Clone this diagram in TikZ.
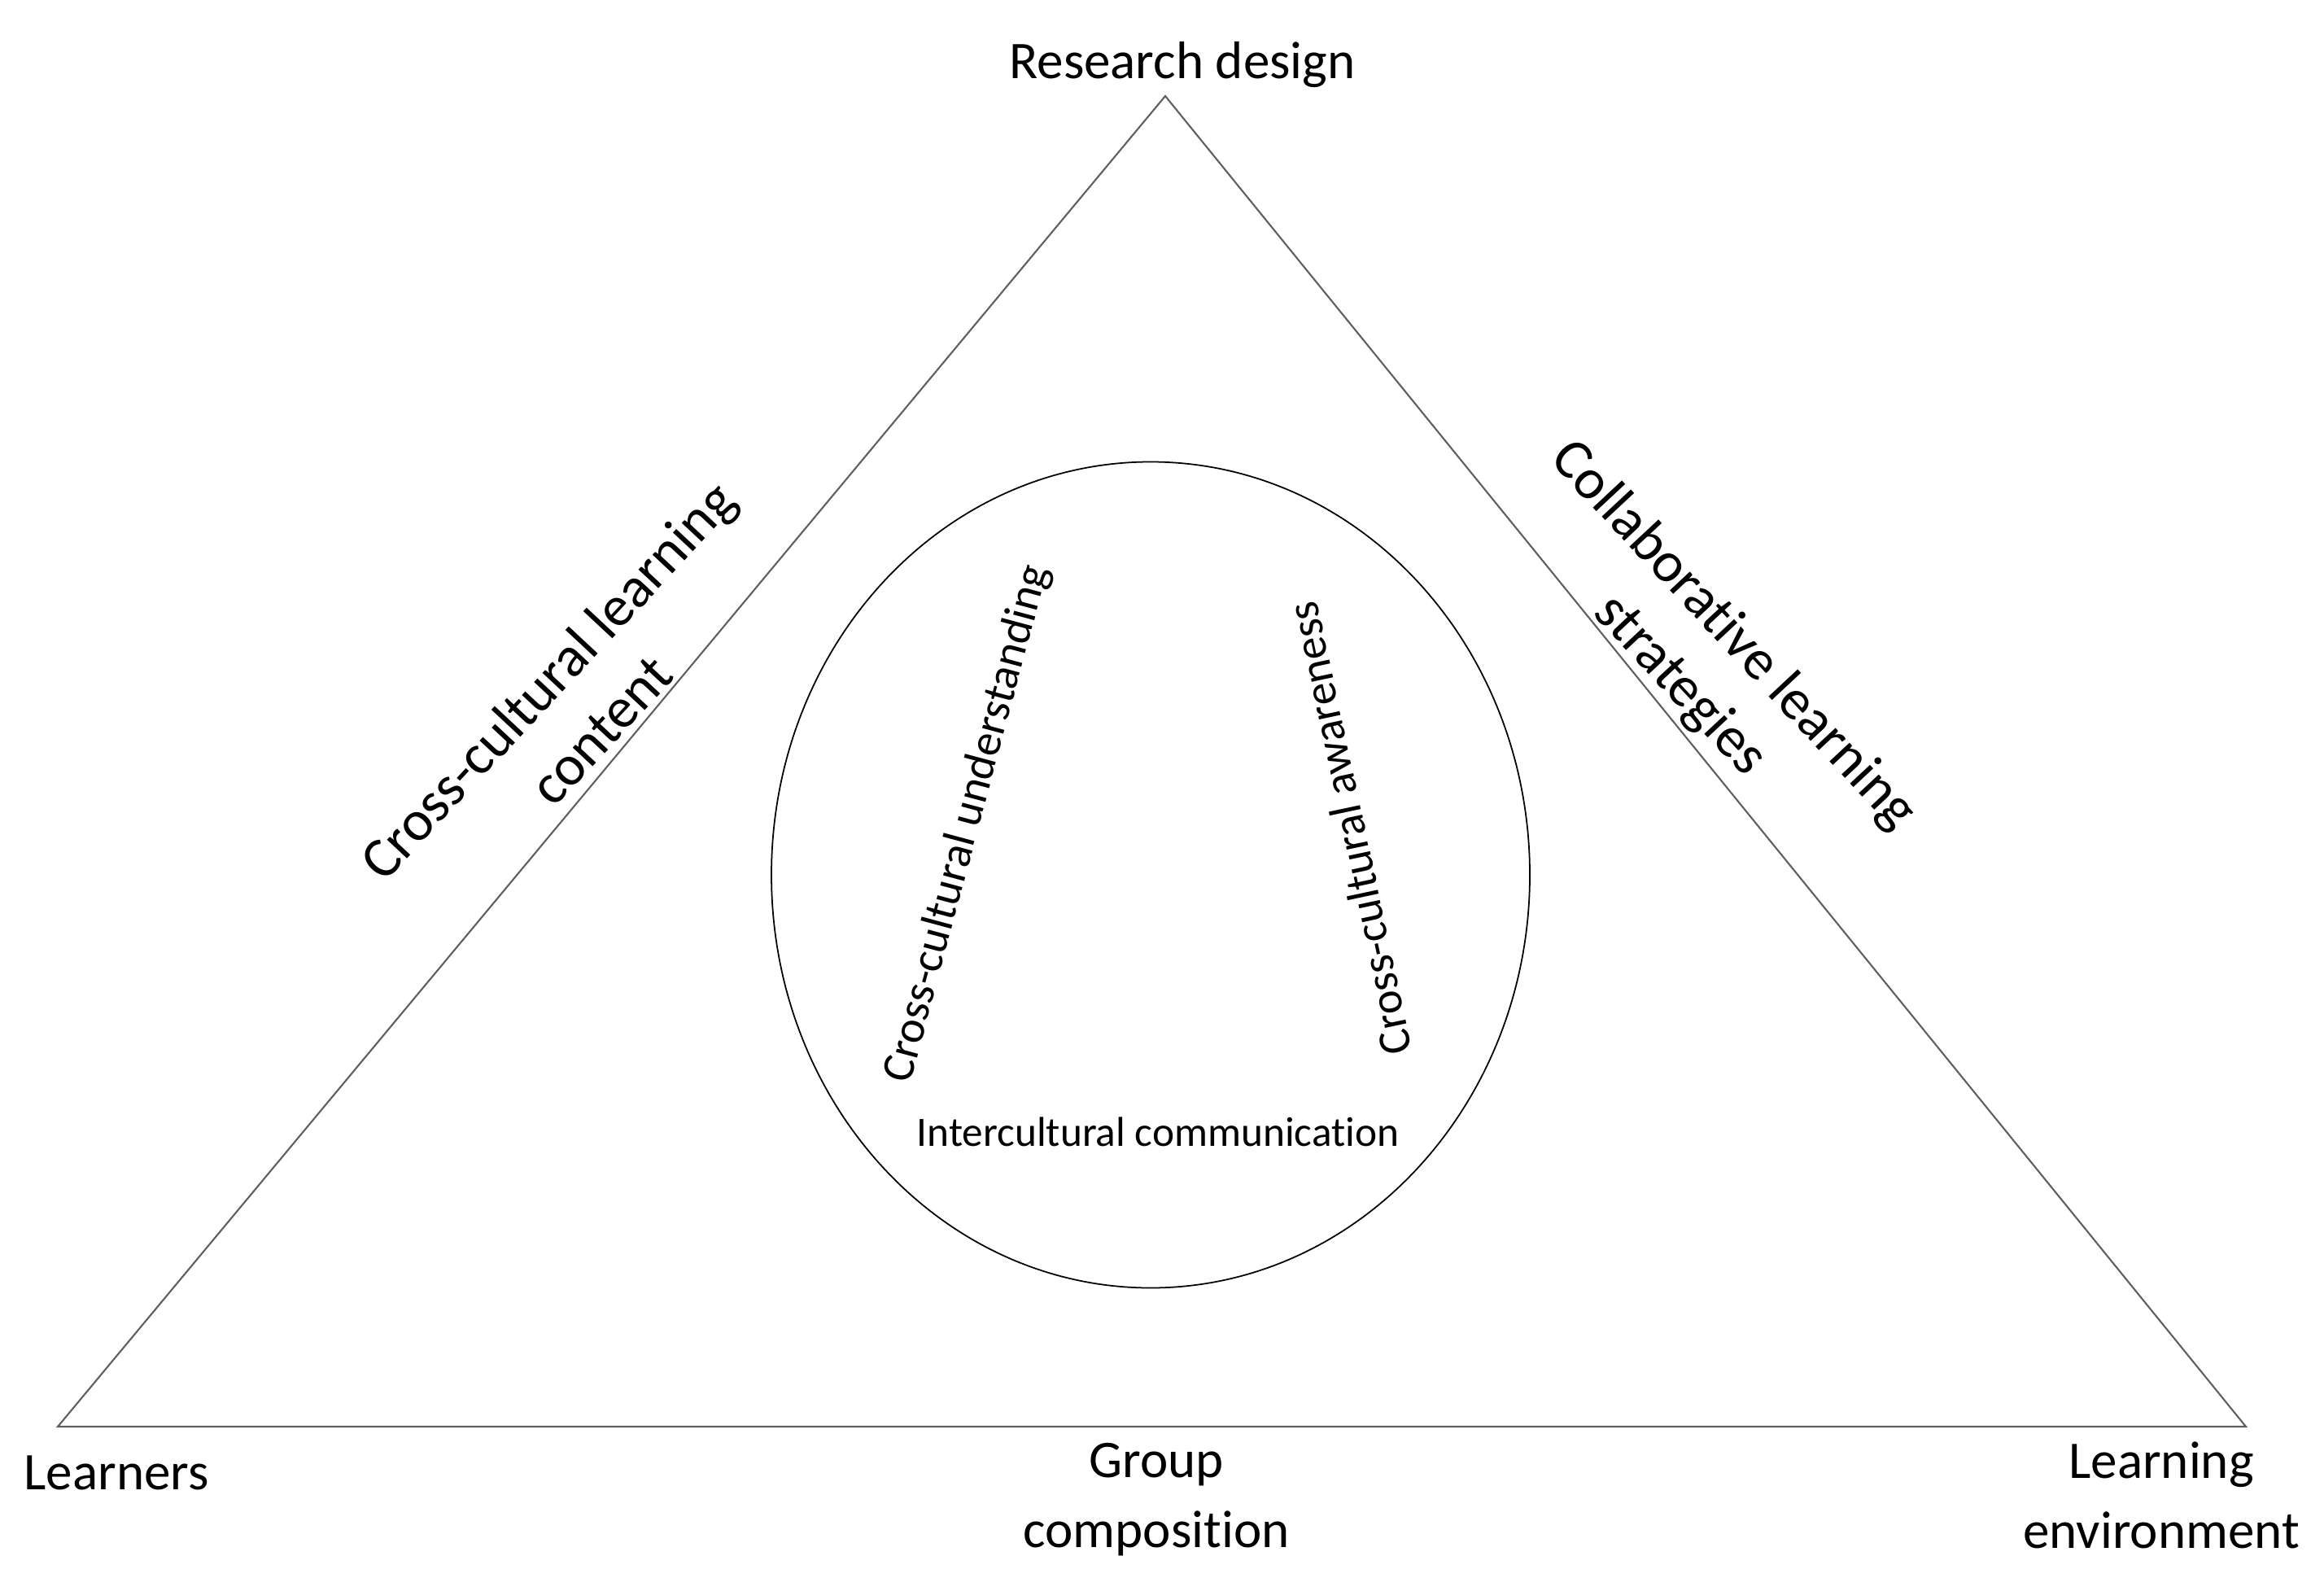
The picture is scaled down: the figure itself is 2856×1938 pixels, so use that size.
\documentclass[tikz,border=0pt]{standalone}
\usepackage{fontspec}
\setmainfont{Carlito}[Ligatures={NoCommon}]
\usepackage{tikz}
\usetikzlibrary{shapes.geometric}
\definecolor{edgeGrey}{RGB}{95, 95, 95}

\begin{document}
\begin{tikzpicture}[x=0.1mm, y=-0.1mm,
    cornerLabel/.style={align=center, inner sep=0pt, font=\fontsize{18.5}{24.5}\selectfont},
    sideLabel/.style={align=center, inner sep=0pt, font=\fontsize{20}{25.5}\selectfont},
    innerLabel/.style={inner sep=0pt, font=\fontsize{16}{19}\selectfont}]
\useasboundingbox (0,0) rectangle (2856,1938);

% Triangle
\coordinate (top) at (1432,118);
\coordinate (left) at (71,1753);
\coordinate (right) at (2760,1753);
\draw[edgeGrey, line width=0.6pt] (top) -- (right) -- (left) -- cycle;

% Inner circle
\node[draw, ellipse, line width=0.5pt, minimum width=93.2mm, minimum height=101.5mm] (core) at (1414,1075) {};

% Corner labels
\node[cornerLabel] (design) at (1453,80) {Research design};
\node[cornerLabel] (learners) at (143,1810) {Learners};
\node[cornerLabel] (group) at (1421,1843) {Group\\composition};
\node[cornerLabel] (environment) at (2656,1837) {Learning\\environment};

% Side labels
\node[sideLabel, rotate=47] (content) at (705,866) {Cross-cultural learning\\content};
\node[sideLabel, rotate=-47] (strategies) at (2097,812) {Collaborative learning\\strategies};

% Inner labels
\node[innerLabel, rotate=75] (understanding) at (1189,1012) {Cross-cultural understanding};
\node[innerLabel, rotate=102] (awareness) at (1658,1018) {Cross-cultural awareness};
\node[innerLabel, font=\fontsize{14.6}{18}\selectfont] (communication) at (1423,1391) {Intercultural communication};
\end{tikzpicture}
\end{document}
